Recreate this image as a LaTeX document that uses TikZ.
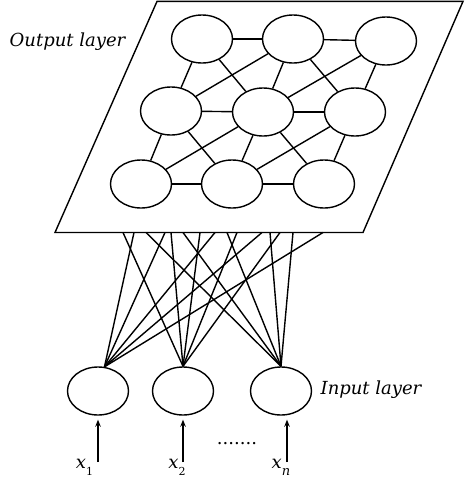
\documentclass[tikz,border=0pt]{standalone}
\usepackage{fontspec}
\setmainfont{DejaVu Serif}
\usetikzlibrary{shapes.geometric,arrows.meta}
\begin{document}
\begin{tikzpicture}[x=1pt,y=-1pt,line width=1.4pt,
  neuron/.style={draw,ellipse,minimum width=61pt,minimum height=48pt,inner sep=0pt,fill=white},
  lbl/.style={font=\fontsize{18}{20}\selectfont\itshape,inner sep=0pt},
  inarrow/.style={-{Stealth[length=7pt,width=5.5pt]},shorten >=4pt}]
\useasboundingbox (0,0) rectangle (474,485);
% output plane
\coordinate (pA) at (157,1.4);
\coordinate (pB) at (463,1.4);
\coordinate (pC) at (363,232.5);
\coordinate (pD) at (55,232.5);
\draw (pA) -- (pB) -- (pC) -- (pD) -- cycle;
% output nodes
\node[neuron] (o11) at (202,39) {};
\node[neuron] (o12) at (293,39) {};
\node[neuron] (o13) at (386,41) {};
\node[neuron] (o21) at (171,111) {};
\node[neuron] (o22) at (263,112) {};
\node[neuron] (o23) at (355,112) {};
\node[neuron] (o31) at (141,184) {};
\node[neuron] (o32) at (232,184) {};
\node[neuron] (o33) at (324,184) {};
\foreach \a/\b in {o11/o12,o12/o13,o21/o22,o22/o23,o31/o32,o32/o33,
  o11/o21,o12/o22,o13/o23,o21/o31,o22/o32,o23/o33,
  o11/o22,o12/o21,o12/o23,o13/o22,o21/o32,o22/o31,o22/o33,o23/o32}
  \draw (\a) -- (\b);
% input nodes
\node[neuron] (i1) at (98,391) {};
\node[neuron] (i2) at (183,391) {};
\node[neuron] (i3) at (281,391) {};
% connections to the plane
\foreach \x in {134,165,215,262,323} {
  \coordinate (q) at (\x,232.5);
  \draw (i1.75) -- (q);
}
\foreach \x in {123,171,200,237,280} {
  \coordinate (q) at (\x,232.5);
  \draw (i2.north) -- (q);
}
\foreach \x in {146,183,227,270,293} {
  \coordinate (q) at (\x,232.5);
  \draw (i3.north) -- (q);
}
% labels
\node[lbl] (outlbl) at (67.5,42) {Output layer};
\node[lbl] (inlbl) at (371,390) {Input layer};
% input arrows
\coordinate (a1) at (98,462);
\coordinate (a2) at (183,462);
\coordinate (a3) at (287,462);
\draw[inarrow] (a1) -- (i1);
\draw[inarrow] (a2) -- (i2);
\draw[inarrow] (a3) -- (i3.south -| a3);
\node[lbl,anchor=base] (x1) at (84.5,468) {x\raisebox{-7pt}{\fontsize{11}{11}\selectfont\upshape 1}};
\node[lbl,anchor=base] (x2) at (177,468) {x\raisebox{-7pt}{\fontsize{11}{11}\selectfont\upshape 2}};
\node[lbl,anchor=base] (x3) at (281,468) {x\raisebox{-7pt}{\fontsize{13}{13}\selectfont n}};
\node[inner sep=0pt,anchor=base,font=\fontsize{18}{18}\selectfont] (dots) at (237,444) {.......};
\end{tikzpicture}
\end{document}
